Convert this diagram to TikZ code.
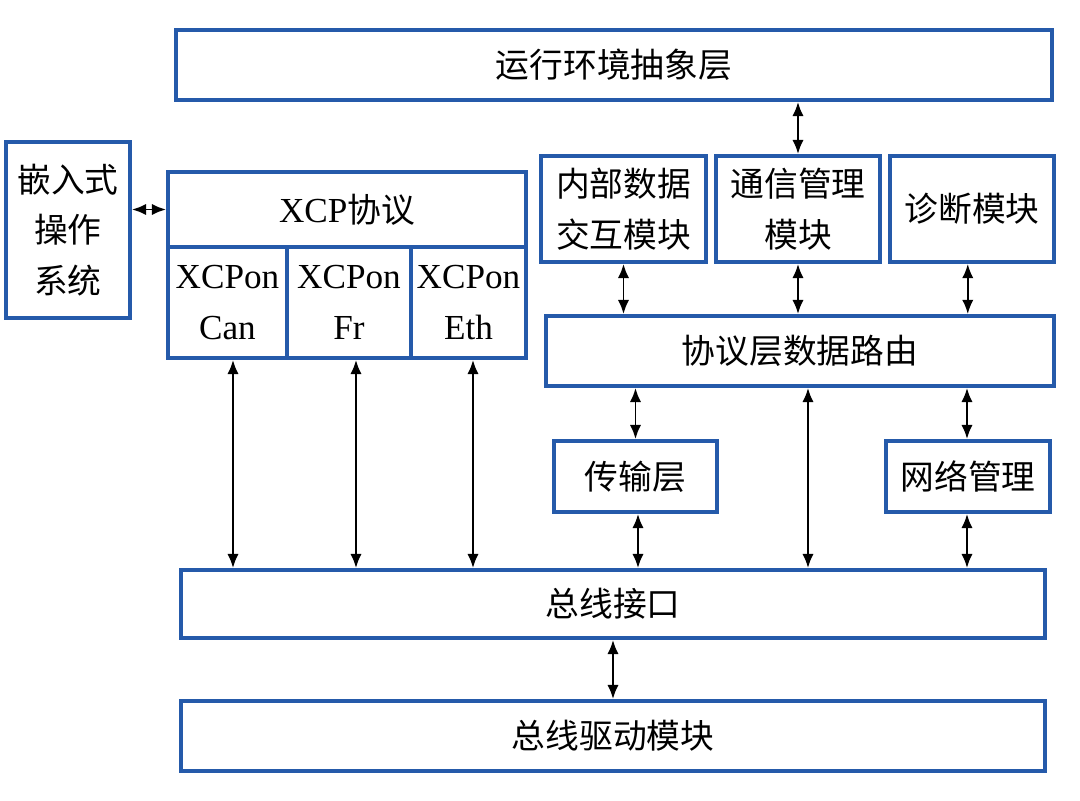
\documentclass[tikz,border=0pt]{standalone}
\usepackage{fontspec}
\setmainfont{Liberation Serif}
\newfontfamily\cjk{Noto Sans CJK SC}
\usetikzlibrary{arrows.meta}
\definecolor{boxblue}{RGB}{37,90,170}
\tikzset{
	box/.style 2 args={draw=boxblue,line width=2.8pt,inner sep=0pt,align=center,
		minimum width=#1*0.025cm,minimum height=#2*0.025cm,
		font=\fontsize{24}{36}\selectfont\cjk},
	cell/.style 2 args={box={#1}{#2},font=\fontsize{25}{36}\selectfont},
	link/.style={{Latex[length=10pt,width=8pt]}-{Latex[length=10pt,width=8pt]},line width=1.4pt}
}
\begin{document}
\begin{tikzpicture}[x=0.025cm,y=-0.025cm]
	\useasboundingbox (0,0) rectangle (1080,801);
	% boxes
	\node[box={876}{70}] (rte) at (614,65) {运行环境抽象层};
	\node[box={124}{176}] (os) at (68,230) {嵌入式\\操作\\系统};
	\node[cell={358}{75}] (xcp) at (347,209.5) {XCP{\cjk\fontsize{24}{36}\selectfont 协议}};
	\node[cell={119}{111}] (can) at (227.5,302.5) {XCPon\\Can};
	\node[cell={124}{111}] (fr) at (349,302.5) {XCPon\\Fr};
	\node[cell={115}{111}] (eth) at (468.5,302.5) {XCPon\\Eth};
	\node[box={165}{106}] (inner) at (623.5,209) {内部数据\\交互模块};
	\node[box={164}{106}] (comm) at (798,209) {通信管理\\模块};
	\node[box={164}{106}] (diag) at (972,209) {诊断模块};
	\node[box={508}{70}] (route) at (800,351) {协议层数据路由};
	\node[box={163}{71}] (tp) at (635.5,476.5) {传输层};
	\node[box={164}{71}] (nm) at (968,476.5) {网络管理};
	\node[box={864}{68}] (bus) at (613,604) {总线接口};
	\node[box={864}{70}] (drv) at (613,736) {总线驱动模块};
	% connectors
	\draw[link] (rte.south -| comm) -- (comm.north);
	\draw[link] (os.east |- xcp) -- (xcp.west);
	\draw[link] (inner.south) -- (inner.south |- route.north);
	\draw[link] (comm.south) -- (comm.south |- route.north);
	\draw[link] ([xshift=-3pt]diag.south) -- ([xshift=-3pt]diag.south |- route.north);
	\draw[link] (route.south -| tp) -- (tp.north);
	\draw[link] (nm.north -| 967,0) -- (route.south -| 967,0);
	\draw[link] (route.south -| 808,0) -- (bus.north -| 808,0);
	\draw[link] (tp.south -| 638,0) -- (bus.north -| 638,0);
	\draw[link] (nm.south -| 967,0) -- (bus.north -| 967,0);
	\foreach \c/\x in {can/233,fr/356,eth/473}
	\draw[link] (\c.south -| \x,0) -- (bus.north -| \x,0);
	\draw[link] (bus.south -| 613,0) -- (drv.north -| 613,0);
\end{tikzpicture}
\end{document}
